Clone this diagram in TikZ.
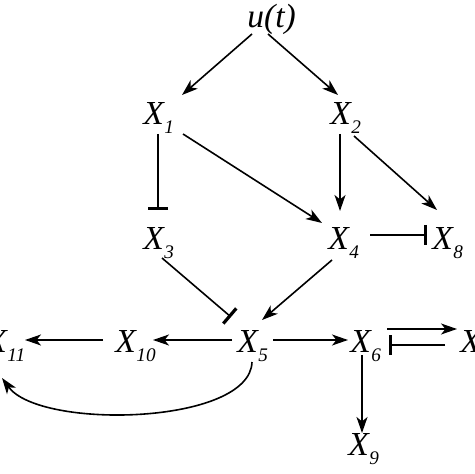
\documentclass[tikz,border=0pt]{standalone}
\usepackage{fontspec}
\setmainfont{Liberation Serif}
\usetikzlibrary{arrows.meta,calc}
\newcommand{\xlab}[1]{\textit{X}\kern-0.3pt\raisebox{-4.5pt}{\fontsize{9.6}{10}\selectfont\textit{#1}}}
\begin{document}
\begin{tikzpicture}[x=0.5pt,y=-0.5pt,
  lbl/.style={inner sep=0pt,anchor=base west,font=\fontsize{16.8}{18}\selectfont},
  act/.style={line width=0.8pt,-{Stealth[length=8pt,width=5.5pt,inset=2.2pt]}},
  inh/.style={line width=0.8pt,-{Bar[width=10pt,line width=1.6pt]}}]
\useasboundingbox (0,0) rectangle (474,474);
\clip (0,0) rectangle (474,474);
\node[lbl] (u) at (247,28) {\textit{u(t)}};
\node[lbl] (X1) at (143,125) {\xlab{1}};
\node[lbl] (X2) at (330,125) {\xlab{2}};
\node[lbl] (X3) at (143,250) {\xlab{3}};
\node[lbl] (X4) at (328,250) {\xlab{4}};
\node[lbl] (X8) at (432,250) {\xlab{8}};
\node[lbl] (X5) at (237,352) {\xlab{5}};
\node[lbl] (X10) at (115,352) {\xlab{10}};
\node[lbl] (X11) at (-14,352) {\xlab{11}};
\node[lbl] (X6) at (350,352) {\xlab{6}};
\node[lbl] (X7) at (460,352) {\xlab{7}};
\node[lbl] (X9) at (348,455) {\xlab{9}};
\draw[act] ($(u.base west)+(5,6)$) -- ($(X1.base west)+(39,-30)$);
\draw[act] ($(u.base west)+(21,6)$) -- ($(X2.base west)+(8,-30)$);
\draw[inh] ($(X1.base west)+(15,9)$) -- ($(X3.base west)+(15,-40)$);
\draw[act] ($(X1.base west)+(40,9)$) -- ($(X4.base west)+(-6,-27)$);
\draw[act] ($(X2.base west)+(10,9)$) -- ($(X4.base west)+(12,-39)$);
\draw[act] ($(X2.base west)+(24,11)$) -- ($(X8.base west)+(5,-40)$);
\draw[inh] ($(X4.base west)+(42,-15)$) -- ($(X8.base west)+(-5,-15)$);
\draw[inh] ($(X3.base west)+(19,8)$) -- ($(X5.base west)+(-6,-35)$);
\draw[act] ($(X4.base west)+(4,10)$) -- ($(X5.base west)+(25,-32)$);
\draw[act] ($(X5.base west)+(-5,-12)$) -- ($(X10.base west)+(38,-12)$);
\draw[act] ($(X10.base west)+(-12,-12)$) -- ($(X11.base west)+(39,-12)$);
\draw[act] ($(X5.base west)+(36,-12)$) -- ($(X6.base west)+(-2,-12)$);
\draw[act] ($(X6.base west)+(37,-23)$) -- ($(X7.base west)+(-3,-23)$);
\draw[inh] ($(X7.base west)+(-15,-7)$) -- ($(X6.base west)+(39,-7)$);
\draw[act] ($(X6.base west)+(12,3)$) -- ($(X9.base west)+(14,-22)$);
\draw[act] ($(X5.base west)+(15,10)$) .. controls (250,425) and (40,430) .. ($(X11.base west)+(16,26)$);
\end{tikzpicture}
\end{document}
